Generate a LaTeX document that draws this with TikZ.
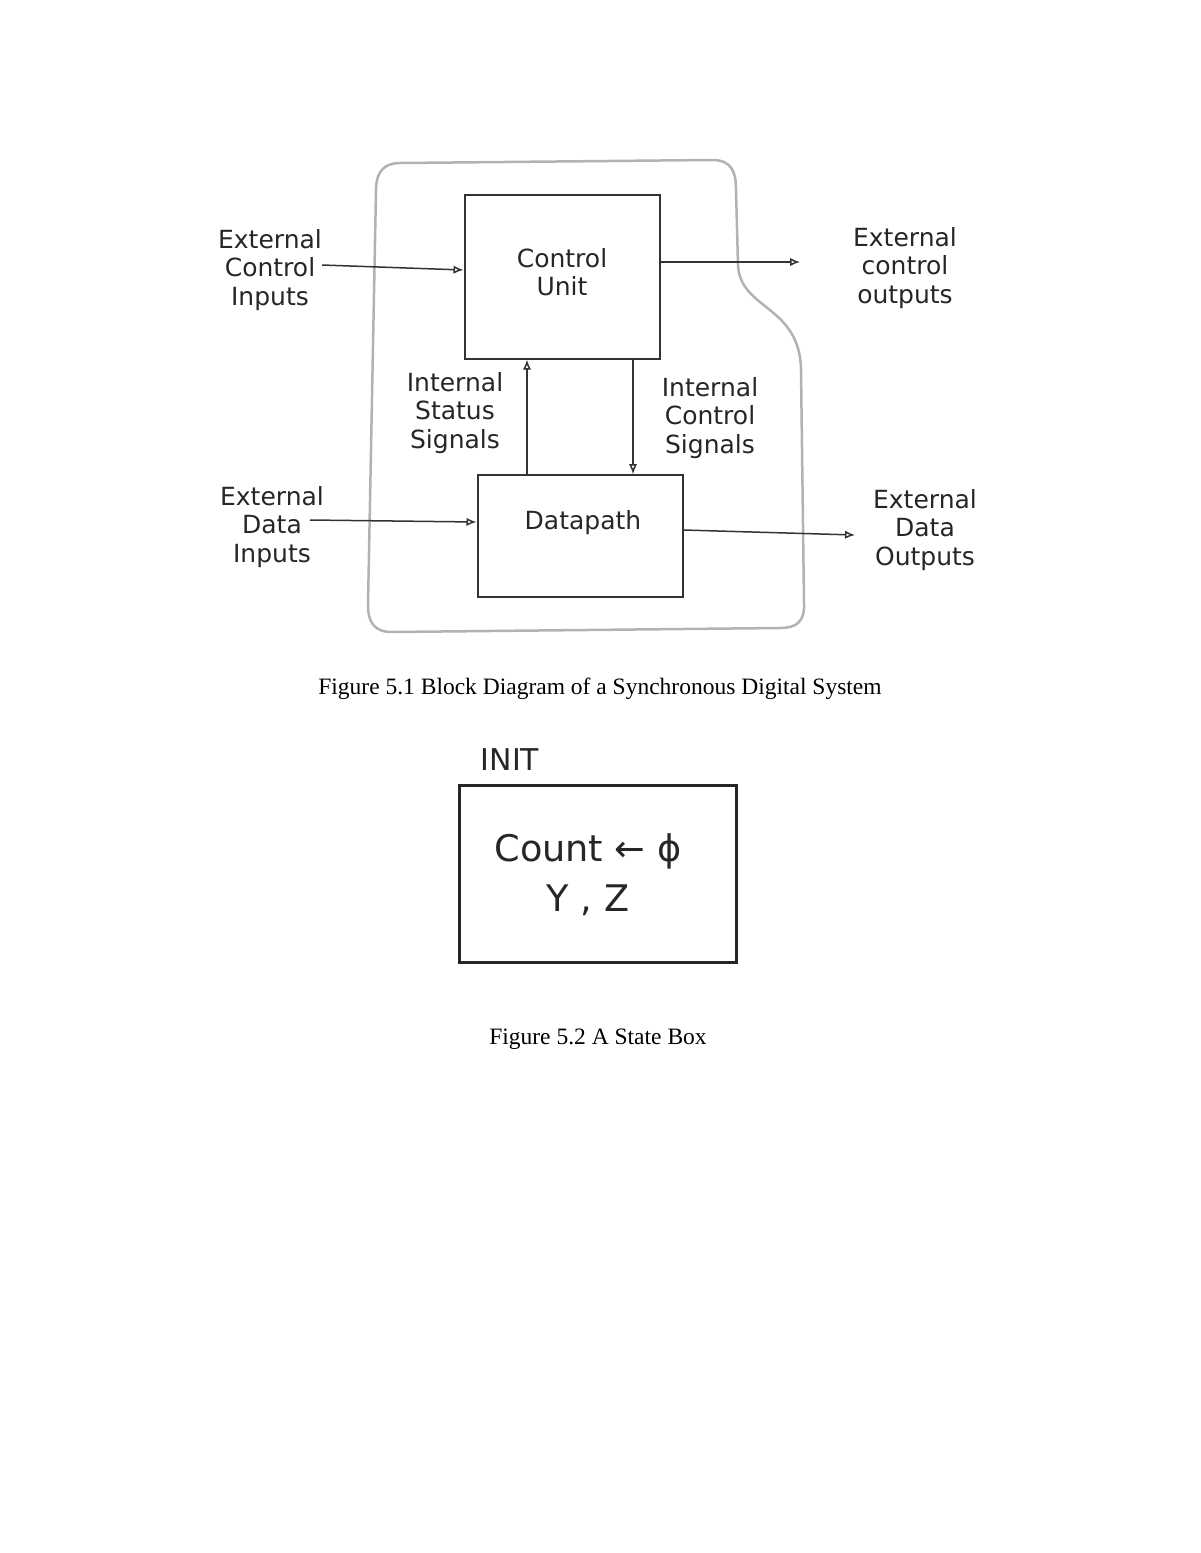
\documentclass[tikz,border=0pt]{standalone}
\usepackage{fontspec}
\setmainfont{Liberation Serif}
\newfontfamily\hand{DejaVu Sans}
\usetikzlibrary{arrows.meta}
\begin{document}
\begin{tikzpicture}[x=0.6pt,y=-0.6pt,
  hw/.style={font=\hand\fontsize{15}{17}\selectfont,align=center,text=black!85},
  blk/.style={draw=black!80,line width=1.2pt},
  con/.style={draw=black!80,line width=0.9pt,-{Latex[open,length=6pt,width=5pt]}},
  figcap/.style={font=\fontsize{14.1}{16}\selectfont}]
\useasboundingbox (0,0) rectangle (1200,1553);
\draw[black!30,line width=1.5pt]
  (400,163) -- (712,160) .. controls (732,160) and (736,172) .. (736,190)
  -- (738,265) .. controls (740,310) and (800,305) .. (801,370)
  -- (804,603) .. controls (805,622) and (796,628) .. (780,628)
  -- (392,632) .. controls (374,632) and (368,622) .. (368,605)
  -- (376,190) .. controls (376,172) and (384,163) .. (400,163) -- cycle;
\node[blk,minimum width=117pt,minimum height=98pt] (cu) at (562,277) {};
\node[hw] at (562,272) {Control\\Unit};
\node[blk,minimum width=123pt,minimum height=73pt] (dp) at (580,536) {};
\node[hw] at (583,523) {Datapath};
\node[hw] (eci) at (270,270) {External\\Control\\Inputs};
\node[hw] (eco) at (905,268) {External\\control\\outputs};
\node[hw] (edi) at (272,527) {External\\Data\\Inputs};
\node[hw] (edo) at (925,530) {External\\Data\\Outputs};
\node[hw] (iss) at (455,413) {Internal\\Status\\Signals};
\node[hw] (ics) at (710,418) {Internal\\Control\\Signals};
\coordinate (a1) at (322,265); \coordinate (a2) at (800,262);
\coordinate (b1) at (310,520); \coordinate (b2) at (855,535);
\draw[con] (a1) -- (cu.west |- 0,270);
\draw[con] (cu.east |- 0,262) -- (a2);
\draw[con] (b1) -- (dp.west |- 0,522);
\draw[con] (dp.east |- 0,530) -- (b2);
\draw[con] (dp.north -| 527,0) -- (cu.south -| 527,0);
\draw[con] (cu.south -| 633,0) -- (dp.north -| 633,0);
\node[figcap] (c1) at (600,689) {Figure 5.1 Block Diagram of a Synchronous Digital System};
\node[hw,font=\hand\fontsize{18}{20}\selectfont] (init) at (510,760) {INIT};
\node[draw=black!85,line width=2pt,minimum width=166pt,minimum height=106pt] (sb) at (598,874) {};
\node[hw,font=\hand\fontsize{22}{30}\selectfont] at (588,875) {Count ← ϕ\\Y , Z};
\node[figcap] (c2) at (598,1039) {Figure 5.2 A State Box};
\end{tikzpicture}
\end{document}
